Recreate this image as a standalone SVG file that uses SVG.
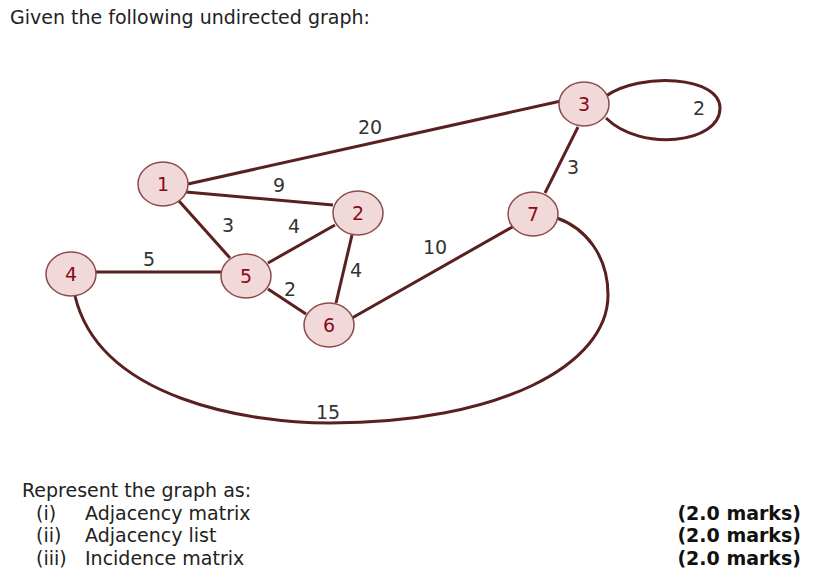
<svg xmlns="http://www.w3.org/2000/svg" width="834" height="585" viewBox="0 0 834 585">
<style>
text{font-family:"DejaVu Sans",Verdana,sans-serif;}
.t{font-size:19px;fill:#222}
.n ellipse{fill:#f2d9d9;stroke:#8c4a4a;stroke-width:1.5}
.n text{font-size:19px;fill:#8b0a1a;text-anchor:middle}
.e{stroke:#5a1f1f;stroke-width:3;fill:none}
.w{font-size:19px;fill:#333;text-anchor:middle}
.m{font-size:19px;fill:#111;font-weight:bold;text-anchor:end}
</style>
<rect width="834" height="585" fill="#fff"/>
<text class="t" x="10" y="24">Given the following undirected graph:</text>
<g id="edges">
<line class="e" x1="188" y1="184" x2="561" y2="101"/>
<line class="e" x1="186" y1="192" x2="333" y2="205"/>
<line class="e" x1="179" y1="201" x2="230" y2="258"/>
<line class="e" x1="268" y1="263" x2="335" y2="225"/>
<line class="e" x1="96" y1="272" x2="221" y2="272"/>
<line class="e" x1="268" y1="289" x2="306" y2="314"/>
<line class="e" x1="352" y1="235" x2="336" y2="303"/>
<line class="e" x1="352" y1="318" x2="514" y2="226"/>
<line class="e" x1="578" y1="127" x2="545" y2="193"/>
<path class="e" d="M606 96 C640 72 720 76 720 108 C720 144 640 152 606 118"/>
<path class="e" d="M75 296 C100 400 250 423 330 423 C500 423 608 365 608 295 C608 255 585 228 557 218"/>
<text class="w" x="370" y="134">20</text>
<text class="w" x="279" y="192">9</text>
<text class="w" x="228" y="232">3</text>
<text class="w" x="294" y="233">4</text>
<text class="w" x="149" y="266">5</text>
<text class="w" x="290" y="296">2</text>
<text class="w" x="356" y="277">4</text>
<text class="w" x="435" y="254">10</text>
<text class="w" x="573" y="174">3</text>
<text class="w" x="699" y="115">2</text>
<text class="w" x="328" y="419">15</text>
</g>
<g id="n1" class="n"><ellipse cx="163" cy="184" rx="25" ry="22"/><text x="163" y="191">1</text></g>
<g id="n2" class="n"><ellipse cx="358" cy="213" rx="25" ry="22"/><text x="358" y="220">2</text></g>
<g id="n3" class="n"><ellipse cx="584" cy="104" rx="25" ry="22"/><text x="584" y="111">3</text></g>
<g id="n4" class="n"><ellipse cx="71" cy="274" rx="25" ry="22"/><text x="71" y="281">4</text></g>
<g id="n5" class="n"><ellipse cx="246" cy="276" rx="25" ry="22"/><text x="246" y="283">5</text></g>
<g id="n6" class="n"><ellipse cx="329" cy="325" rx="25" ry="22"/><text x="329" y="332">6</text></g>
<g id="n7" class="n"><ellipse cx="533" cy="214" rx="25" ry="22"/><text x="533" y="221">7</text></g>
<text class="t" x="22" y="497">Represent the graph as:</text>
<text class="t" x="36" y="520">(i)</text><text class="t" x="85" y="520">Adjacency matrix</text>
<text class="t" x="36" y="542">(ii)</text><text class="t" x="85" y="542">Adjacency list</text>
<text class="t" x="36" y="565">(iii)</text><text class="t" x="85" y="565">Incidence matrix</text>
<text class="m" x="801" y="520">(2.0 marks)</text>
<text class="m" x="801" y="542">(2.0 marks)</text>
<text class="m" x="801" y="565">(2.0 marks)</text>
</svg>
